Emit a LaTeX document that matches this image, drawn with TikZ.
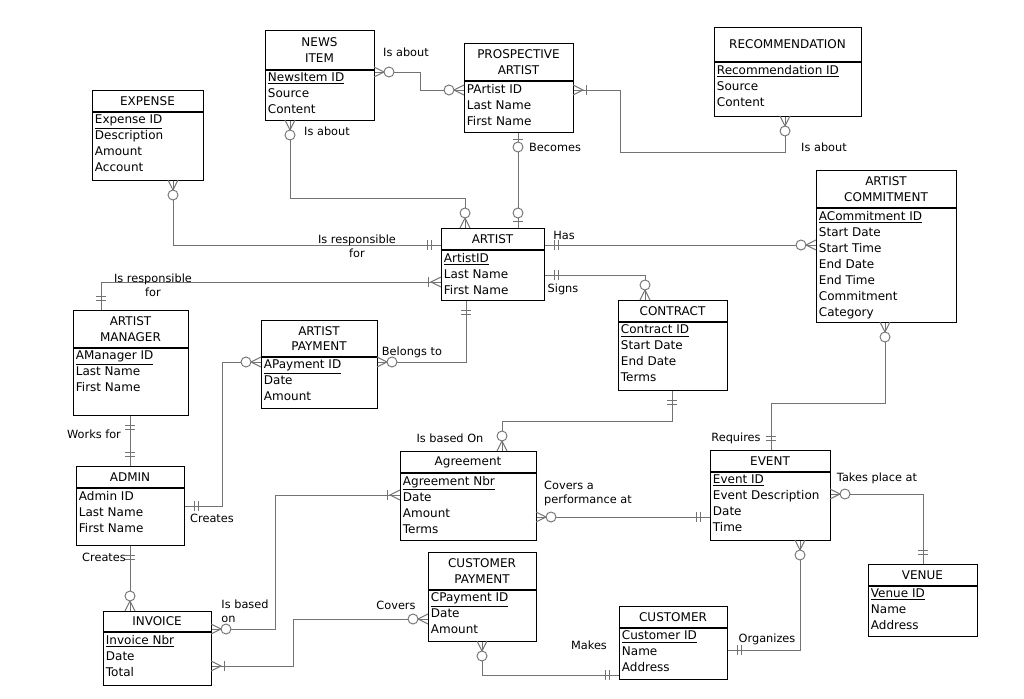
\documentclass[tikz,border=0pt]{standalone}
\usepackage{fontspec}
\setmainfont{DejaVu Sans}
\begin{document}
\begin{tikzpicture}[x=0.75pt,y=-0.75pt,
  box/.style={draw=black,line width=0.8pt,inner sep=0pt},
  ttl/.style={font=\fontsize{9}{11.5}\selectfont,align=center,inner sep=0pt},
  att/.style={font=\fontsize{9}{12}\selectfont,align=left,anchor=north west,inner sep=2pt},
  lbl/.style={font=\fontsize{8.5}{10.5}\selectfont,align=center,inner sep=0pt},
  cn/.style={draw=black!55,line width=0.7pt},
  mk/.style={draw=black!55,line width=0.7pt}]
\useasboundingbox (0,0) rectangle (1024,699);
\fill[white] (0,0) rectangle (1024,699);
% #1 name, #2 x1, #3 y1, #4 x2, #5 y2, #6 yheader
\newcommand\ent[8]{%
  \node[box,anchor=north west,minimum width={(#4-#2)*0.75pt},minimum height={(#5-#3)*0.75pt}] (#1) at (#2,#3) {};
  \draw[line width=0.8pt] (#2,#6) -- (#4,#6);
  \node[ttl] at ({(#2+#4)/2},{(#3+#6)/2}) {#7};
  \node[att] at (#2,#6) {#8};}
\newcommand\crow{\draw[mk] (0,5)--(10,0)--(0,-5);}
\newcommand\zm[3]{\begin{scope}[shift={(#1,#2)},rotate=#3]\crow\draw[mk,fill=white] (15,0) circle[radius=5];\end{scope}}
\newcommand\om[3]{\begin{scope}[shift={(#1,#2)},rotate=#3]\crow\draw[mk] (13,5)--(13,-5);\end{scope}}
\newcommand\oo[3]{\begin{scope}[shift={(#1,#2)},rotate=#3]\draw[mk] (10,5)--(10,-5) (14,5)--(14,-5);\end{scope}}
\newcommand\zo[3]{\begin{scope}[shift={(#1,#2)},rotate=#3]\draw[mk] (7,5)--(7,-5);\draw[mk,fill=white] (15,0) circle[radius=5];\end{scope}}

% connectors
\draw[cn] (374,72) -- (420,72) -- (420,90) -- (464,90);
\draw[cn] (290,120) -- (290,198) -- (465,198) -- (465,228);
\draw[cn] (573,90) -- (620,90) -- (620,152) -- (785,152) -- (785,116);
\draw[cn] (518,132) -- (518,228);
\draw[cn] (173,180) -- (173,245) -- (441,245);
\draw[cn] (101,310) -- (101,282) -- (441,282);
\draw[cn] (544,245) -- (816,245);
\draw[cn] (544,275) -- (645,275) -- (645,300);
\draw[cn] (466,300) -- (466,362) -- (377,362);
\draw[cn] (130,415) -- (130,466);
\draw[cn] (184,506) -- (222,506) -- (222,362) -- (261,362);
\draw[cn] (130,545) -- (130,611);
\draw[cn] (211,629) -- (275,629) -- (275,495) -- (400,495);
\draw[cn] (211,666) -- (293,666) -- (293,619) -- (428,619);
\draw[cn] (672,390) -- (672,421) -- (502,421) -- (502,451);
\draw[cn] (536,517) -- (710,517);
\draw[cn] (885,322) -- (885,403) -- (771,403) -- (771,450);
\draw[cn] (830,494) -- (923,494) -- (923,564);
\draw[cn] (482,641) -- (482,675) -- (619,675);
\draw[cn] (800,540) -- (800,650) -- (727,650);

% entities
\ent{news}{265}{30}{374}{120}{70}{NEWS\\ITEM}{\underline{NewsItem ID}\\Source\\Content}
\ent{pa}{464}{43}{573}{132}{81}{PROSPECTIVE\\ARTIST}{PArtist ID\\Last Name\\First Name}
\ent{rec}{714}{27}{861}{116}{62}{RECOMMENDATION}{\underline{Recommendation ID}\\Source\\Content}
\ent{exp}{92}{90}{203}{180}{112}{EXPENSE}{\underline{Expense ID}\\Description\\Amount\\Account}
\ent{artist}{441}{228}{544}{300}{250}{ARTIST}{\underline{ArtistID}\\Last Name\\First Name}
\ent{ac}{816}{170}{956}{322}{208}{ARTIST\\COMMITMENT}{\underline{ACommitment ID}\\Start Date\\Start Time\\End Date\\End Time\\Commitment\\Category}
\ent{am}{73}{310}{188}{415}{348}{ARTIST\\MANAGER}{\underline{AManager ID}\\Last Name\\First Name}
\ent{ap}{261}{320}{377}{408}{357}{ARTIST\\PAYMENT}{\underline{APayment ID}\\Date\\Amount}
\ent{con}{618}{300}{727}{390}{322}{CONTRACT}{\underline{Contract ID}\\Start Date\\End Date\\Terms}
\ent{admin}{76}{466}{184}{545}{488}{ADMIN}{Admin ID\\Last Name\\First Name}
\ent{agr}{400}{451}{536}{540}{473}{Agreement}{\underline{Agreement Nbr}\\Date\\Amount\\Terms}
\ent{event}{710}{450}{830}{540}{472}{EVENT}{\underline{Event ID}\\Event Description\\Date\\Time}
\ent{venue}{868}{564}{977}{636}{586}{VENUE}{\underline{Venue ID}\\Name\\Address}
\ent{cp}{428}{552}{536}{641}{590}{CUSTOMER\\PAYMENT}{\underline{CPayment ID}\\Date\\Amount}
\ent{inv}{103}{611}{211}{685}{632}{INVOICE}{\underline{Invoice Nbr}\\Date\\Total}
\ent{cust}{619}{606}{727}{679}{628}{CUSTOMER}{\underline{Customer ID}\\Name\\Address}

% end marks
\zm{374}{72}{0} \zm{464}{90}{180}
\zm{290}{120}{270} \zm{465}{228}{90}
\om{573}{90}{0} \zm{785}{116}{270}
\zo{518}{132}{270} \zo{518}{228}{90}
\zm{173}{180}{270} \oo{441}{245}{180}
\oo{101}{310}{90} \om{441}{282}{180}
\oo{544}{245}{0} \zm{816}{245}{180}
\oo{544}{275}{0} \zm{645}{300}{90}
\oo{466}{300}{270} \zm{377}{362}{0}
\oo{130}{415}{270} \oo{130}{466}{90}
\oo{184}{506}{0} \zm{261}{362}{180}
\oo{130}{545}{270} \zm{130}{611}{90}
\zm{211}{629}{0} \om{400}{495}{180}
\om{211}{666}{0} \zm{428}{619}{180}
\oo{672}{390}{270} \zm{502}{451}{90}
\zm{536}{517}{0} \oo{710}{517}{180}
\zm{885}{322}{270} \oo{771}{450}{90}
\zm{830}{494}{0} \oo{923}{564}{90}
\zm{482}{641}{270} \oo{619}{675}{180}
\zm{800}{540}{270} \oo{727}{650}{0}

% labels
\node[lbl] (l1) at (406,52) {Is about};
\node[lbl] (l2) at (327,131) {Is about};
\node[lbl] (l3) at (824,147) {Is about};
\node[lbl] (l4) at (555,147) {Becomes};
\node[lbl] (l5) at (357,246) {Is responsible\\for};
\node[lbl] (l6) at (153,285) {Is responsible\\for};
\node[lbl] (l7) at (564,235) {Has};
\node[lbl] (l8) at (563,289) {Signs};
\node[lbl] (l9) at (412,352) {Belongs to};
\node[lbl] (l10) at (94,434) {Works for};
\node[lbl] (l11) at (212,518) {Creates};
\node[lbl] (l12) at (104,557) {Creates};
\node[lbl,align=left] (l13) at (245,611) {Is based\\on};
\node[lbl] (l14) at (396,605) {Covers};
\node[lbl] (l15) at (450,438) {Is based On};
\node[lbl,align=left] (l16) at (588,493) {Covers a\\performance at};
\node[lbl] (l17) at (736,438) {Requires};
\node[lbl] (l18) at (877,478) {Takes place at};
\node[lbl] (l19) at (589,645) {Makes};
\node[lbl] (l20) at (767,639) {Organizes};
\end{tikzpicture}
\end{document}
